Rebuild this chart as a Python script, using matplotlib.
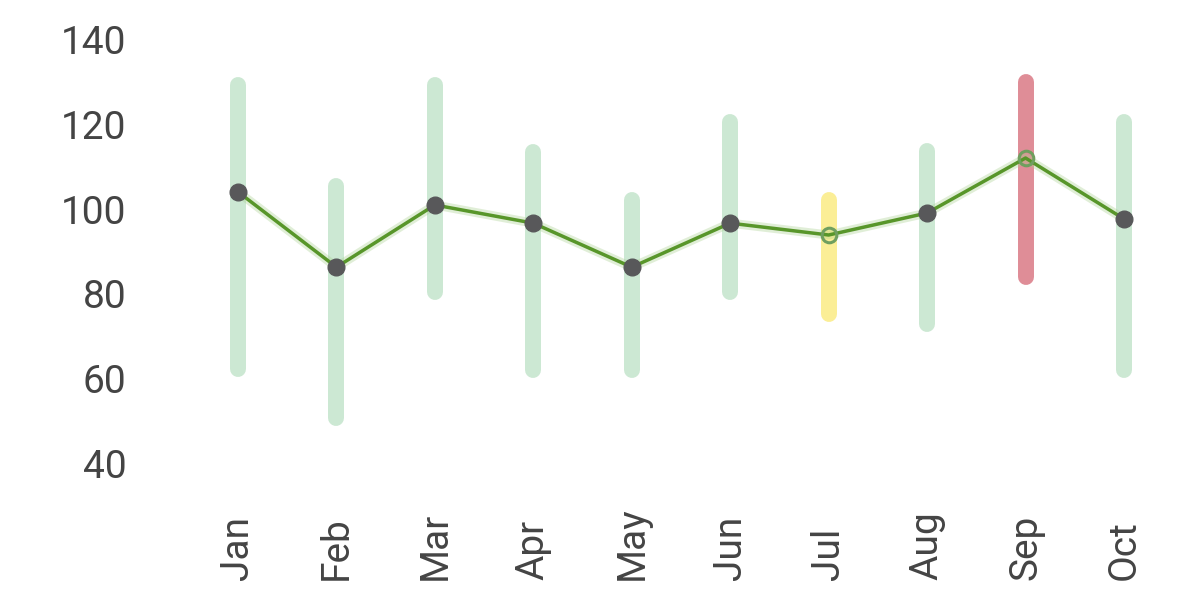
import matplotlib
matplotlib.use("Agg")
import matplotlib.pyplot as plt

# Data
months = ['Jan', 'Feb', 'Mar', 'Apr', 'May', 'Jun', 'Jul', 'Aug', 'Sep', 'Oct']
values = [104.1, 86.3, 101.0, 96.7, 86.3, 96.7, 93.9, 99.1, 112.1, 97.7]
lows = [62.2, 50.6, 80.4, 62.0, 62.0, 80.4, 75.2, 72.9, 84.0, 62.0]
highs = [129.4, 105.5, 129.4, 113.5, 102.2, 120.6, 102.2, 113.7, 130.0, 120.6]
status = ['ok', 'ok', 'ok', 'ok', 'ok', 'ok', 'warn', 'ok', 'alert', 'ok']

bar_colors = {'ok': '#cce8d3', 'warn': '#fbee96', 'alert': '#df8d97'}
text_color = '#444444'

plt.rcParams['font.family'] = ['Roboto', 'DejaVu Sans']

fig = plt.figure(figsize=(12, 5.98), dpi=100)
ax = fig.add_axes([160 / 1200, 135 / 598, 1020 / 1200, 423 / 598])

x = list(range(len(months)))

# Range bars
for xi, lo, hi, st in zip(x, lows, highs, status):
    ax.plot([xi, xi], [lo, hi], color=bar_colors[st], linewidth=11.5,
            solid_capstyle='round', zorder=1)

# Line with soft glow
ax.plot(x, values, color='#a8d08d', linewidth=6.5, alpha=0.35, zorder=2,
        solid_joinstyle='round')
ax.plot(x, values, color='#58962a', linewidth=2.5, zorder=3,
        solid_joinstyle='round')

# Markers: filled for normal months, hollow for flagged ones
for xi, v, st in zip(x, values, status):
    if st == 'ok':
        ax.plot(xi, v, 'o', markersize=12, color='#58585a',
                markeredgecolor='#58585a', zorder=4)
    else:
        ax.plot(xi, v, 'o', markersize=10.5, markerfacecolor='none',
                markeredgecolor='#6f9f5f', markeredgewidth=2.2, zorder=4)

ax.set_xlim(-0.792, 9.569)
ax.set_ylim(40, 140)
ax.set_yticks([40, 60, 80, 100, 120, 140])
ax.set_xticks(x)
ax.set_xticklabels(months, rotation=90, va='bottom', ha='center')
ax.tick_params(axis='y', length=0, pad=24, labelsize=28, labelcolor=text_color)
ax.tick_params(axis='x', length=0, pad=84, labelsize=28, labelcolor=text_color)
for s in ax.spines.values():
    s.set_visible(False)

fig.savefig('out.png', dpi=100, facecolor='white')
